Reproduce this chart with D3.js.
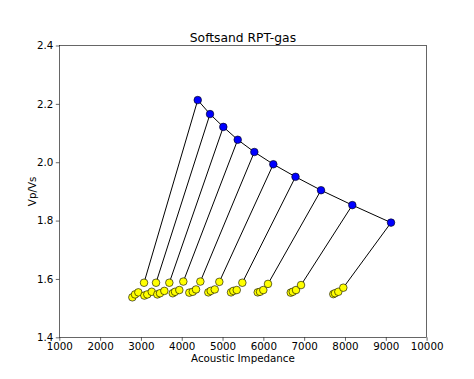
<!DOCTYPE html>
<html>
<head>
<meta charset="utf-8">
<script src="https://cdn.jsdelivr.net/npm/d3@7"></script>
<style>
  body { margin: 0; background: #fff; }
  text { font-family: "DejaVu Sans", sans-serif; fill: #000; }
</style>
</head>
<body>
<div id="chart"></div>
<script>
// brine-saturated points (blue), one per porosity step
const brineAI = [4392, 4693, 5019, 5372, 5779, 6244, 6788, 7413, 8180, 9128];
const brineVpVs = [2.213, 2.165, 2.121, 2.077, 2.035, 1.993, 1.950, 1.904, 1.853, 1.793];

// gas-substituted points (yellow), 4 saturations per porosity step
const gasAI = [
  [3076, 2937, 2856, 2790],
  [3370, 3265, 3157, 3084],
  [3696, 3574, 3468, 3402],
  [4039, 3941, 3836, 3780],
  [4456, 4350, 4270, 4186],
  [4921, 4809, 4710, 4652],
  [5485, 5348, 5264, 5208],
  [6114, 5999, 5918, 5862],
  [6923, 6800, 6720, 6671],
  [7959, 7837, 7756, 7714]
];
const gasVpVs = [
  [1.587, 1.554, 1.547, 1.537],
  [1.587, 1.556, 1.547, 1.543],
  [1.587, 1.559, 1.551, 1.547],
  [1.591, 1.562, 1.556, 1.551],
  [1.591, 1.564, 1.556, 1.553],
  [1.590, 1.564, 1.559, 1.554],
  [1.587, 1.562, 1.559, 1.554],
  [1.583, 1.562, 1.556, 1.554],
  [1.579, 1.562, 1.556, 1.553],
  [1.570, 1.556, 1.551, 1.548]
];

const xTicks = [1000, 2000, 3000, 4000, 5000, 6000, 7000, 8000, 9000, 10000];
const yTicks = [1.4, 1.6, 1.8, 2.0, 2.2, 2.4];

const width = 474, height = 379;
const margin = { left: 59.3, right: 474 - 426.6, top: 45.5, bottom: 379 - 337.3 };

const svg = d3.select("#chart").append("svg")
  .attr("width", width)
  .attr("height", height);

const x = d3.scaleLinear().domain([1000, 10000]).range([margin.left, width - margin.right]);
const y = d3.scaleLinear().domain([1.4, 2.4]).range([height - margin.bottom, margin.top]);

const xAxis = svg.append("g")
  .attr("transform", `translate(0,${height - margin.bottom})`)
  .call(d3.axisBottom(x).tickValues(xTicks).tickFormat(d3.format("d")).tickSizeOuter(0).tickSize(3.5).tickPadding(1.5));
const yAxis = svg.append("g")
  .attr("transform", `translate(${margin.left},0)`)
  .call(d3.axisLeft(y).tickValues(yTicks).tickFormat(d3.format(".1f")).tickSizeOuter(0).tickSize(3.5).tickPadding(2.5));

[xAxis, yAxis].forEach(g => {
  g.selectAll("text").style("font-size", "10.3px").style("font-family", "DejaVu Sans");
  g.selectAll("line").attr("stroke", "#000").attr("stroke-width", 0.6);
  g.select(".domain").remove();
});

// frame
svg.append("rect")
  .attr("x", x(1000)).attr("y", y(2.4))
  .attr("width", x(10000) - x(1000)).attr("height", y(1.4) - y(2.4))
  .attr("fill", "none").attr("stroke", "#000").attr("stroke-width", 0.6);

const plot = svg.append("g");

// lines from brine to first gas point
brineAI.forEach((a, i) => {
  plot.append("line")
    .attr("x1", x(a)).attr("y1", y(brineVpVs[i]))
    .attr("x2", x(gasAI[i][0])).attr("y2", y(gasVpVs[i][0]))
    .attr("stroke", "#000").attr("stroke-width", 1);
});

// brine trend line
plot.append("path")
  .datum(d3.range(brineAI.length))
  .attr("fill", "none").attr("stroke", "#000").attr("stroke-width", 1)
  .attr("d", d3.line().x(i => x(brineAI[i])).y(i => y(brineVpVs[i])));

// gas points
gasAI.forEach((row, i) => {
  row.slice().reverse().forEach((a, j) => {
    const k = row.length - 1 - j;
    plot.append("circle")
      .attr("cx", x(a)).attr("cy", y(gasVpVs[i][k]))
      .attr("r", 3.8)
      .attr("fill", "#ffff00").attr("stroke", "#000").attr("stroke-width", 0.6);
  });
});

// brine points
brineAI.forEach((a, i) => {
  plot.append("circle")
    .attr("cx", x(a)).attr("cy", y(brineVpVs[i]))
    .attr("r", 3.8)
    .attr("fill", "#0000ff").attr("stroke", "#000").attr("stroke-width", 0.6);
});

svg.append("text")
  .attr("x", (x(1000) + x(10000)) / 2).attr("y", 42)
  .attr("text-anchor", "middle")
  .style("font-size", "12.3px")
  .text("Softsand RPT-gas");

svg.append("text")
  .attr("x", (x(1000) + x(10000)) / 2).attr("y", 362)
  .attr("text-anchor", "middle")
  .style("font-size", "10.3px")
  .text("Acoustic Impedance");

svg.append("text")
  .attr("transform", `translate(36,${(y(1.4) + y(2.4)) / 2}) rotate(-90)`)
  .attr("text-anchor", "middle")
  .style("font-size", "10.3px")
  .text("Vp/Vs");
</script>
</body>
</html>
